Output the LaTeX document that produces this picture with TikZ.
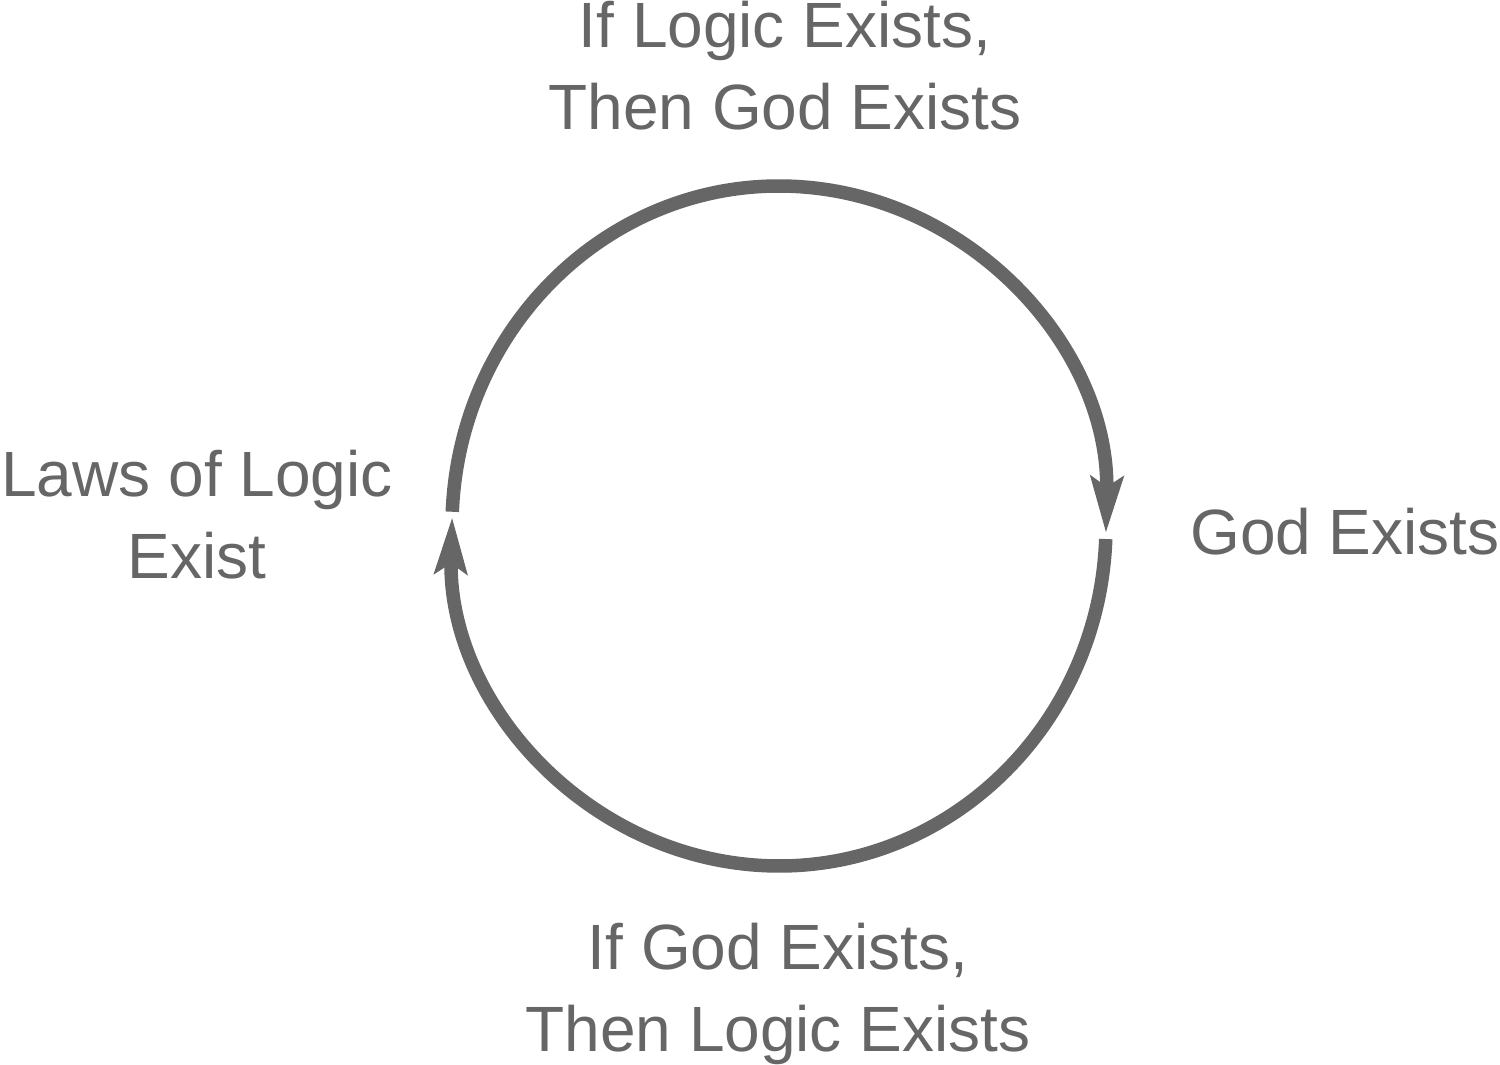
\documentclass[tikz,border=0pt]{standalone}
\usepackage{fontspec}
\setmainfont{Liberation Sans}
\usepackage{xcolor}
\usetikzlibrary{arrows.meta}
\definecolor{ink}{HTML}{666666}

\begin{document}
\begin{tikzpicture}[x=0.5pt, y=0.5pt]
        \def\rx{327}
        \def\ry{340}
        \tikzstyle{claim}=[text=ink, align=center, inner sep=0pt, anchor=base, font=\fontsize{32pt}{41pt}\selectfont]
        \tikzstyle{loop}=[draw=ink, line width=6.75pt, -{Stealth[length=28pt, width=16pt, inset=5pt]}]
        \useasboundingbox (0,0) rectangle (1500,1065);

        % Nodes
        \node[claim] (ifl) at (785, 935.7) {If Logic Exists,\\Then God Exists};
        \node[claim] (god) at (1345, 510) {God Exists};
        \node[claim] (ifg) at (778, 13.3) {If God Exists,\\Then Logic Exists};
        \node[claim] (laws) at (197, 486.7) {Laws of Logic\\Exist};

        \coordinate (c) at (779, 539);
        \coordinate (l1) at ([shift={(177.6:{\rx} and {\ry})}]c);
        \coordinate (r2) at ([shift={(-2.2:{\rx} and {\ry})}]c);

        % Edges
        \draw [loop] (l1) arc[start angle=177.6, end angle=-1.2, x radius=\rx, y radius=\ry];
        \draw [loop] (r2) arc[start angle=-2.2, end angle=-181.5, x radius=\rx, y radius=\ry];

    \end{tikzpicture}
\end{document}
